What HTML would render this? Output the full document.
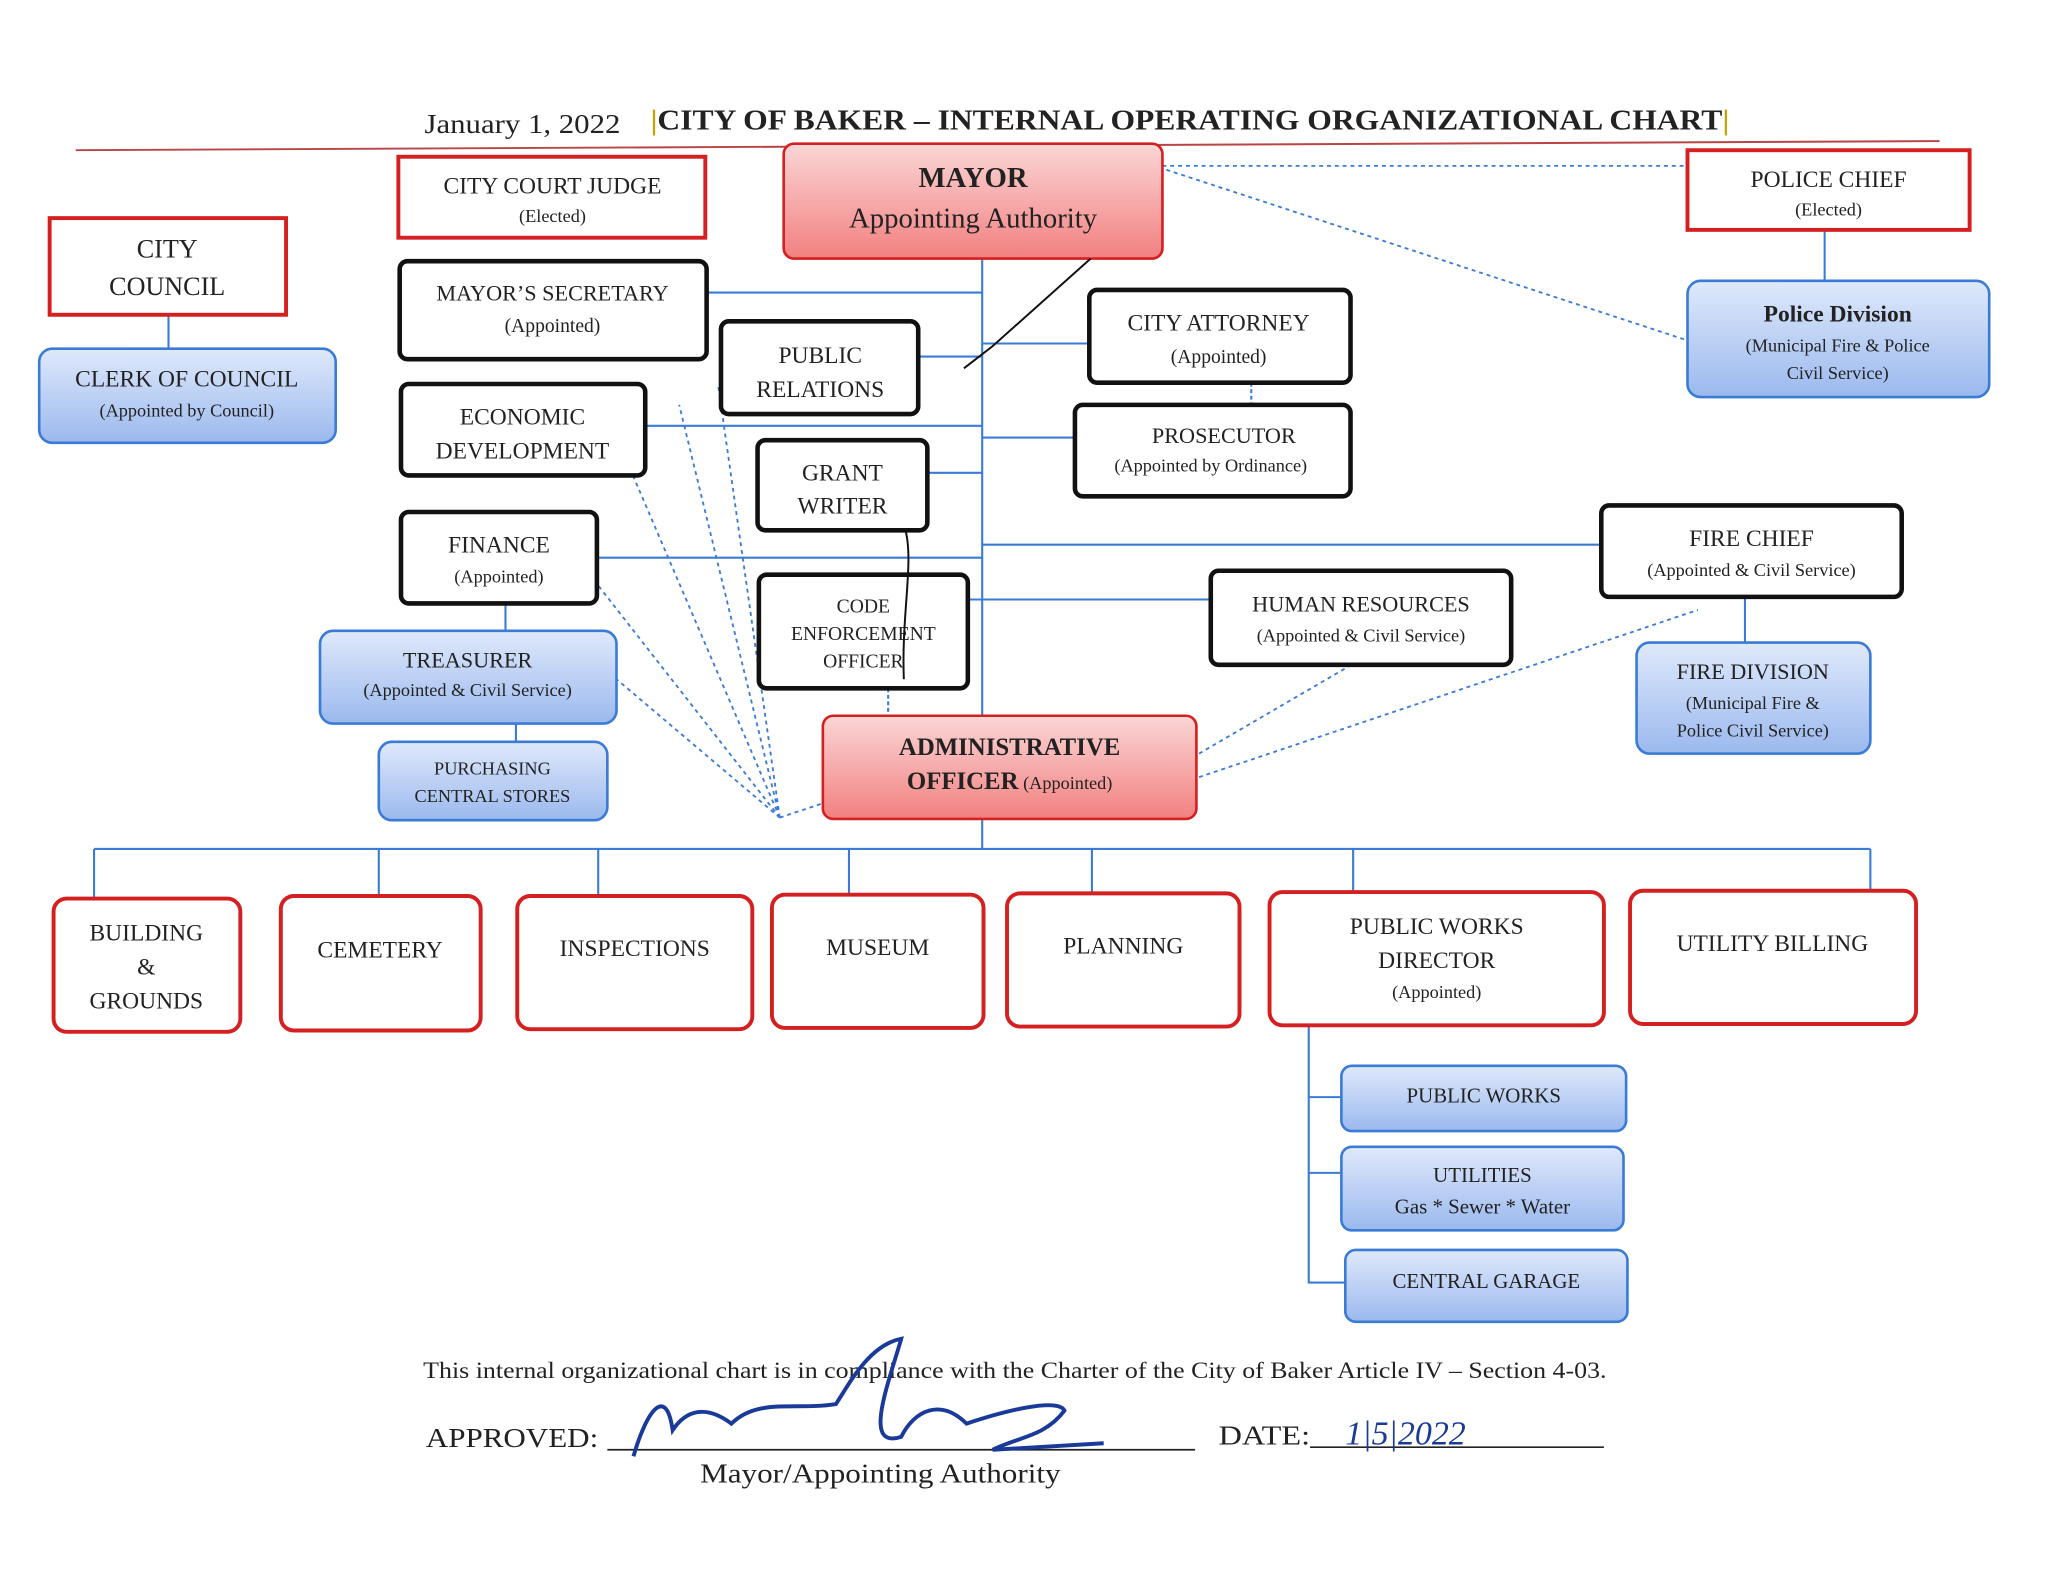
<!DOCTYPE html>
<html><head><meta charset="utf-8"><style>
html,body{margin:0;padding:0;background:#fff}
svg{display:block}
text{font-family:"Liberation Serif",serif;fill:#222}
</style></head><body>
<svg width="2048" height="1583" viewBox="0 0 1568 1212" xmlns="http://www.w3.org/2000/svg">
<defs>
<linearGradient id="pk" x1="0" y1="0" x2="0" y2="1"><stop offset="0" stop-color="#fbd6d6"/><stop offset="1" stop-color="#f28080"/></linearGradient>
<linearGradient id="bl" x1="0" y1="0" x2="0" y2="1"><stop offset="0" stop-color="#dfe9fb"/><stop offset="1" stop-color="#9bb9ee"/></linearGradient>
</defs>
<rect width="1568" height="1212" fill="#fff"/>
<text x="325" y="102" font-size="21" textLength="150" lengthAdjust="spacingAndGlyphs">January 1, 2022</text>
<text x="498" y="99" font-size="22" font-weight="bold" textLength="826" lengthAdjust="spacingAndGlyphs"><tspan fill="#c9a000">|</tspan>CITY OF BAKER – INTERNAL OPERATING ORGANIZATIONAL CHART<tspan fill="#c9a000">|</tspan></text>
<line x1="58" y1="115" x2="1485" y2="108" stroke="#b44" stroke-width="1.5"/>
<g stroke="#3a7bd5" stroke-width="1.6" fill="none">
<line x1="752" y1="198" x2="752" y2="650"/>
<line x1="541" y1="224" x2="752" y2="224"/>
<line x1="703" y1="273" x2="752" y2="273"/>
<line x1="752" y1="263" x2="834" y2="263"/>
<line x1="494" y1="326" x2="752" y2="326"/>
<line x1="752" y1="335" x2="823" y2="335"/>
<line x1="710" y1="362" x2="752" y2="362"/>
<line x1="457" y1="427" x2="752" y2="427"/>
<line x1="752" y1="417" x2="1226" y2="417"/>
<line x1="741" y1="459" x2="927" y2="459"/>
<line x1="129" y1="241" x2="129" y2="267"/>
<line x1="1397" y1="176" x2="1397" y2="215"/>
<line x1="1336" y1="457" x2="1336" y2="492"/>
<line x1="387" y1="462" x2="387" y2="483"/>
<line x1="395" y1="554" x2="395" y2="568"/>
<line x1="958" y1="293" x2="958" y2="310" stroke-dasharray="3 2"/>
<line x1="680" y1="527" x2="680" y2="548" stroke-dasharray="3 2"/>
<line x1="72" y1="650" x2="1432" y2="650"/>
<line x1="72" y1="650" x2="72" y2="688"/><line x1="290" y1="650" x2="290" y2="686"/><line x1="458" y1="650" x2="458" y2="686"/><line x1="650" y1="650" x2="650" y2="685"/><line x1="836" y1="650" x2="836" y2="684"/><line x1="1036" y1="650" x2="1036" y2="683"/><line x1="1432" y1="650" x2="1432" y2="682"/>
<polyline points="1002,786 1002,982 1030,982"/>
<line x1="1002" y1="840" x2="1027" y2="840"/><line x1="1002" y1="898" x2="1027" y2="898"/>
</g>
<g stroke="#3a7bd5" stroke-width="1.4" fill="none" stroke-dasharray="3 3">
<line x1="890" y1="127" x2="1292" y2="127"/>
<line x1="893" y1="130" x2="1290" y2="260"/>
<line x1="597" y1="626" x2="485" y2="365"/>
<line x1="597" y1="626" x2="550" y2="296"/>
<line x1="597" y1="626" x2="520" y2="310"/>
<line x1="597" y1="626" x2="457" y2="447"/>
<line x1="597" y1="626" x2="472" y2="520"/>
<line x1="597" y1="626" x2="630" y2="615"/>
<line x1="918" y1="577" x2="1033" y2="510"/>
<line x1="918" y1="595" x2="1300" y2="467"/>
</g>
<g fill="#fff" stroke="#d42020" stroke-width="3">
<rect x="305" y="120" width="235" height="62"/>
<rect x="1292" y="115" width="216" height="61"/>
<rect x="38" y="167" width="181" height="74"/>
<rect x="41" y="688" width="143" height="102" rx="10"/>
<rect x="215" y="686" width="153" height="103" rx="10"/>
<rect x="396" y="686" width="180" height="102" rx="10"/>
<rect x="591" y="685" width="162" height="102" rx="10"/>
<rect x="771" y="684" width="178" height="102" rx="10"/>
<rect x="972" y="683" width="256" height="102" rx="10"/>
<rect x="1248" y="682" width="219" height="102" rx="10"/>
</g>
<g fill="url(#pk)" stroke="#d42020" stroke-width="2">
<rect x="600" y="110" width="290" height="88" rx="8"/>
<rect x="630" y="548" width="286" height="79" rx="8"/>
</g>
<g fill="#fff" stroke="#111" stroke-width="3.5">
<rect x="306" y="200" width="235" height="75" rx="6"/>
<rect x="552" y="246" width="151" height="71" rx="6"/>
<rect x="834" y="222" width="200" height="71" rx="6"/>
<rect x="823" y="310" width="211" height="70" rx="6"/>
<rect x="307" y="294" width="187" height="70" rx="6"/>
<rect x="580" y="337" width="130" height="69" rx="6"/>
<rect x="307" y="392" width="150" height="70" rx="6"/>
<rect x="1226" y="387" width="230" height="70" rx="6"/>
<rect x="581" y="440" width="160" height="87" rx="6"/>
<rect x="927" y="437" width="230" height="72" rx="6"/>
</g>
<g fill="url(#bl)" stroke="#3a7bd5" stroke-width="2">
<rect x="30" y="267" width="227" height="72" rx="10"/>
<rect x="1292" y="215" width="231" height="89" rx="10"/>
<rect x="245" y="483" width="227" height="71" rx="10"/>
<rect x="1253" y="492" width="179" height="85" rx="10"/>
<rect x="290" y="568" width="175" height="60" rx="10"/>
<rect x="1027" y="816" width="218" height="50" rx="8"/>
<rect x="1027" y="878" width="216" height="64" rx="8"/>
<rect x="1030" y="957" width="216" height="55" rx="8"/>
</g>
<g text-anchor="middle">
<text x="423" y="148" font-size="18">CITY COURT JUDGE</text><text x="423" y="170" font-size="14">(Elected)</text>
<text x="745" y="143" font-size="22" font-weight="bold">MAYOR</text><text x="745" y="174" font-size="22">Appointing Authority</text>
<text x="1400" y="143" font-size="18">POLICE CHIEF</text><text x="1400" y="165" font-size="14">(Elected)</text>
<text x="128" y="197" font-size="20">CITY</text><text x="128" y="226" font-size="20">COUNCIL</text>
<text x="143" y="296" font-size="18">CLERK OF COUNCIL</text><text x="143" y="319" font-size="14">(Appointed by Council)</text>
<text x="423" y="230" font-size="17">MAYOR’S SECRETARY</text><text x="423" y="254" font-size="15">(Appointed)</text>
<text x="628" y="278" font-size="18">PUBLIC</text><text x="628" y="304" font-size="18">RELATIONS</text>
<text x="933" y="253" font-size="18">CITY ATTORNEY</text><text x="933" y="278" font-size="15">(Appointed)</text>
<text x="937" y="339" font-size="17">PROSECUTOR</text><text x="927" y="361" font-size="14">(Appointed by Ordinance)</text>
<text x="1407" y="246" font-size="18" font-weight="bold" fill="#223">Police Division</text><text x="1407" y="269" font-size="14">(Municipal Fire &amp; Police</text><text x="1407" y="290" font-size="14">Civil Service)</text>
<text x="400" y="325" font-size="18">ECONOMIC</text><text x="400" y="351" font-size="18">DEVELOPMENT</text>
<text x="645" y="368" font-size="18">GRANT</text><text x="645" y="393" font-size="18">WRITER</text>
<text x="382" y="423" font-size="18">FINANCE</text><text x="382" y="446" font-size="14">(Appointed)</text>
<text x="1341" y="418" font-size="18">FIRE CHIEF</text><text x="1341" y="441" font-size="14">(Appointed &amp; Civil Service)</text>
<text x="661" y="469" font-size="15">CODE</text><text x="661" y="490" font-size="15">ENFORCEMENT</text><text x="661" y="511" font-size="15">OFFICER</text>
<text x="1042" y="468" font-size="17">HUMAN RESOURCES</text><text x="1042" y="491" font-size="14">(Appointed &amp; Civil Service)</text>
<text x="358" y="511" font-size="17">TREASURER</text><text x="358" y="533" font-size="14">(Appointed &amp; Civil Service)</text>
<text x="1342" y="520" font-size="17">FIRE DIVISION</text><text x="1342" y="543" font-size="14">(Municipal Fire &amp;</text><text x="1342" y="564" font-size="14">Police Civil Service)</text>
<text x="377" y="593" font-size="14">PURCHASING</text><text x="377" y="614" font-size="14">CENTRAL STORES</text>
<text x="773" y="578" font-size="19" font-weight="bold">ADMINISTRATIVE</text><text x="773" y="604" font-size="19"><tspan font-weight="bold">OFFICER</tspan><tspan font-size="14"> (Appointed)</tspan></text>
<text x="112" y="720" font-size="18">BUILDING</text><text x="112" y="746" font-size="18">&amp;</text><text x="112" y="772" font-size="18">GROUNDS</text>
<text x="291" y="733" font-size="18">CEMETERY</text>
<text x="486" y="732" font-size="18">INSPECTIONS</text>
<text x="672" y="731" font-size="18">MUSEUM</text>
<text x="860" y="730" font-size="18">PLANNING</text>
<text x="1100" y="715" font-size="18">PUBLIC WORKS</text><text x="1100" y="741" font-size="18">DIRECTOR</text><text x="1100" y="764" font-size="14">(Appointed)</text>
<text x="1357" y="728" font-size="18">UTILITY BILLING</text>
<text x="1136" y="844" font-size="16">PUBLIC WORKS</text>
<text x="1135" y="905" font-size="16">UTILITIES</text><text x="1135" y="929" font-size="16">Gas * Sewer * Water</text>
<text x="1138" y="986" font-size="16">CENTRAL GARAGE</text>
</g>
<text x="324" y="1055" font-size="18" textLength="906" lengthAdjust="spacingAndGlyphs">This internal organizational chart is in compliance with the Charter of the City of Baker Article IV – Section 4-03.</text>
<text x="326" y="1108" font-size="21" textLength="132" lengthAdjust="spacingAndGlyphs">APPROVED:</text>
<line x1="465" y1="1110" x2="915" y2="1110" stroke="#222" stroke-width="1.3"/>
<text x="536" y="1135" font-size="21" textLength="276" lengthAdjust="spacingAndGlyphs">Mayor/Appointing Authority</text>
<text x="933" y="1106" font-size="21" textLength="70" lengthAdjust="spacingAndGlyphs">DATE:</text>
<line x1="1003" y1="1108" x2="1228" y2="1108" stroke="#222" stroke-width="1.3"/>
<text x="1030" y="1106" font-size="26" style="fill:#1a3a9a;font-style:italic">1|5|2022</text>
<path d="M485,1115 C495,1080 510,1060 515,1095 C525,1080 540,1075 560,1090 C580,1070 610,1080 640,1075 C650,1060 665,1030 690,1025 C680,1060 660,1110 690,1100 C700,1080 720,1070 740,1090 C770,1080 810,1070 815,1080 C800,1100 780,1100 760,1110 L845,1105" fill="none" stroke="#1a3a9a" stroke-width="3"/>
<path d="M738,282 L760,265 L835,198" fill="none" stroke="#111" stroke-width="1.5"/>
<path d="M693,405 C700,430 690,470 692,520" fill="none" stroke="#111" stroke-width="1.5"/>
</svg>
</body></html>
